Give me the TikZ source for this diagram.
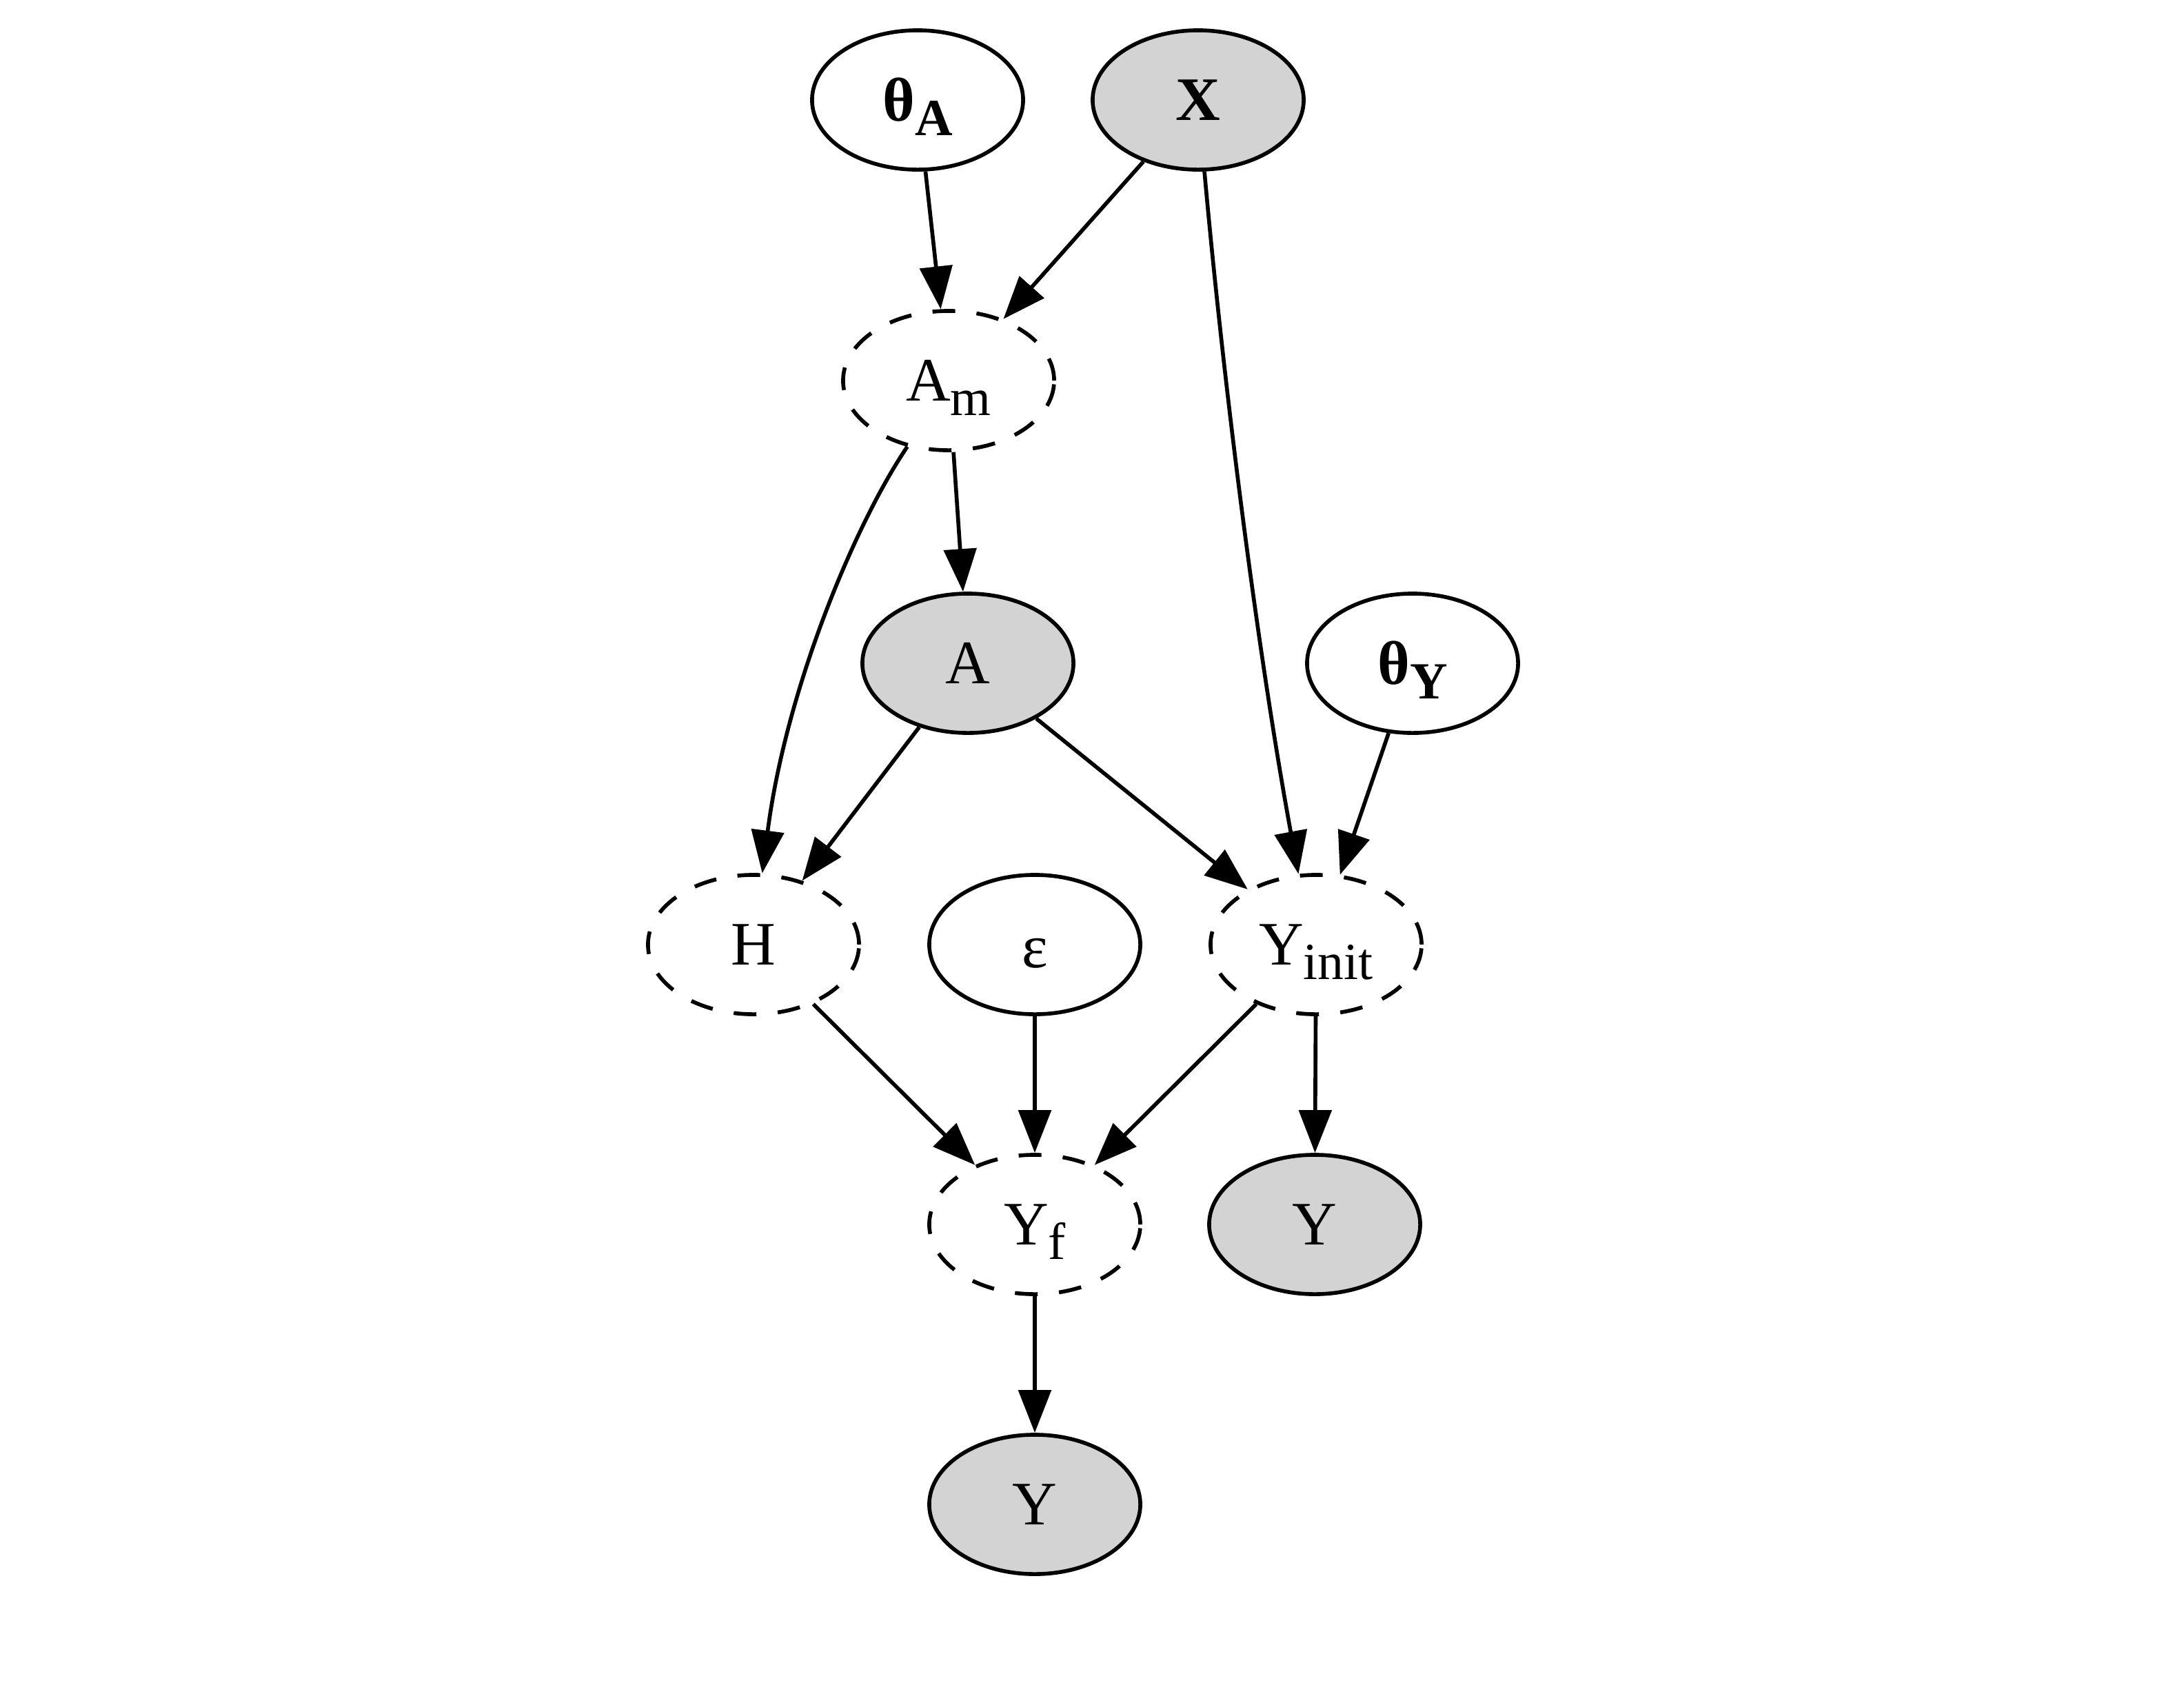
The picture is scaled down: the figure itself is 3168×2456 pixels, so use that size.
\documentclass[tikz,border=0pt]{standalone}
\usepackage{fontspec}
\setmainfont{Liberation Serif}
\usetikzlibrary{arrows.meta,shapes.geometric}
\definecolor{obsgray}{HTML}{D3D3D3}
\newcommand{\lowsub}[1]{\raisebox{-0.21cm}[0pt][0pt]{\fontsize{21.5}{25}\selectfont #1}}

\begin{document}
\begin{tikzpicture}[x=0.01cm,y=-0.01cm]
    \tikzstyle{every node}+=[inner sep=0pt, font=\fontsize{25.5}{30}\selectfont]
    \tikzstyle{var}=[draw, ellipse, line width=1.6pt, minimum width=3.06cm, minimum height=2.02cm]
    \tikzstyle{obs}=[var, fill=obsgray]
    \tikzstyle{latent}=[var, dash pattern=on 0.33cm off 0.31cm]
    \tikzstyle{edge}=[line width=1.6pt, -{Triangle[length=0.62cm,width=0.47cm]}]
    \useasboundingbox (0,0) rectangle (3168,2456);
    \node [var] (thetaA) at (1331,145) {\textbf{θ\lowsub{A}}};
    \node [obs] (X) at (1738,145) {\textbf{X}};
    \node [latent] (Am) at (1376,552) {A\lowsub{m}};
    \node [obs] (A) at (1404,962) {A};
    \node [var] (thetaY) at (2049,962) {\textbf{θ\lowsub{Y}}};
    \node [latent] (H) at (1093,1370) {H};
    \node [var] (eps) at (1501,1370) {\raisebox{-0.13cm}[\height][\depth]{ε}};
    \node [latent] (Yinit) at (1909,1370) {Y\lowsub{init}};
    \node [latent] (Yf) at (1501,1776) {Y\lowsub{f}};
    \node [obs] (Y1) at (1907,1776) {Y};
    \node [obs] (Y2) at (1501,2182) {Y};
    \draw [edge] (thetaA) -- (Am);
    \draw [edge] (X) -- (Am);
    \draw [edge] (X.-85) .. controls (1775,560) and (1825,950) .. (Yinit.104);
    \draw [edge] (Am.-122) .. controls (1240,760) and (1140,1000) .. (H.83);
    \draw [edge] (Am) -- (A);
    \draw [edge] (A) -- (H);
    \draw [edge] (A) -- (Yinit);
    \draw [edge] (thetaY) -- (Yinit);
    \draw [edge] (H) -- (Yf);
    \draw [edge] (eps) -- (Yf);
    \draw [edge] (Yinit) -- (Yf);
    \draw [edge] (Yinit) -- (Y1);
    \draw [edge] (Yf) -- (Y2);
\end{tikzpicture}
\end{document}
